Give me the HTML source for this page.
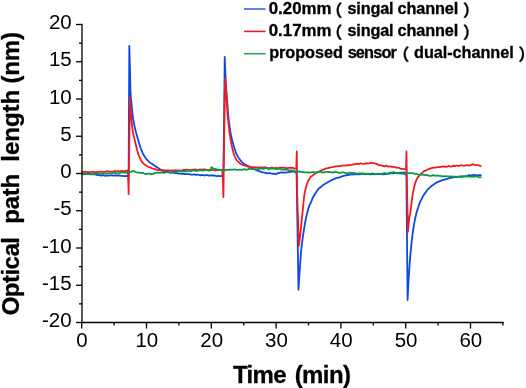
<!DOCTYPE html>
<html><head><meta charset="utf-8"><style>
html,body{margin:0;padding:0;background:#fff;}
body{width:526px;height:388px;overflow:hidden;}
svg{display:block;}
.t{font-family:"Liberation Sans",sans-serif;}
</style></head><body>
<svg width="526" height="388" viewBox="0 0 526 388">
<rect width="526" height="388" fill="#fff"/>
<g fill="none" stroke-linejoin="round" stroke-linecap="round" stroke-width="1.8">
<path stroke="#0c48e4" d="M82.00 174.04 L82.60 174.13 L83.20 174.23 L83.80 174.23 L84.40 174.13 L85.00 174.03 L85.60 174.05 L86.20 174.07 L86.80 174.09 L87.40 174.12 L88.00 174.15 L88.61 174.06 L89.23 173.95 L89.87 173.95 L90.50 174.02 L91.13 174.08 L91.75 174.11 L92.36 174.14 L92.94 174.20 L93.49 174.28 L94.00 174.38 L94.65 174.34 L95.23 174.37 L95.77 174.53 L96.35 174.77 L97.00 174.98 L97.51 175.01 L98.06 175.03 L98.63 175.07 L99.22 175.27 L99.84 175.47 L100.46 175.51 L101.10 175.49 L101.74 175.42 L102.37 175.27 L103.00 175.13 L103.61 175.37 L104.23 175.62 L104.86 175.73 L105.49 175.73 L106.12 175.72 L106.76 175.64 L107.40 175.57 L108.04 175.55 L108.69 175.55 L109.34 175.49 L110.00 175.39 L110.60 175.31 L111.19 175.29 L111.79 175.28 L112.40 175.37 L113.00 175.52 L113.61 175.63 L114.22 175.54 L114.84 175.45 L115.46 175.47 L116.09 175.53 L116.72 175.58 L117.36 175.61 L118.00 175.65 L118.59 175.61 L119.18 175.58 L119.78 175.61 L120.38 175.73 L120.99 175.85 L121.60 175.86 L122.22 175.86 L122.84 175.93 L123.46 176.04 L124.08 176.13 L124.70 176.06 L125.33 175.99 L125.95 176.00 L126.57 176.04 L127.19 176.06 L127.80 176.04 L128.60 176.10 L129.30 45.90 L129.30 45.83 L129.32 46.44 L129.34 47.04 L129.35 47.65 L129.37 48.25 L129.39 48.86 L129.41 49.46 L129.42 50.06 L129.44 50.67 L129.46 51.27 L129.48 51.87 L129.49 52.48 L129.51 53.08 L129.53 53.68 L129.55 54.29 L129.56 54.89 L129.58 55.49 L129.60 56.10 L129.62 56.70 L129.63 57.30 L129.65 57.91 L129.67 58.51 L129.69 59.11 L129.70 59.72 L129.72 60.32 L129.74 60.93 L129.76 61.53 L129.77 62.14 L129.79 62.74 L129.81 63.35 L129.83 63.95 L129.84 64.56 L129.86 65.17 L129.88 65.77 L129.90 66.38 L129.91 66.99 L129.93 67.60 L129.95 68.20 L129.97 68.81 L129.98 69.42 L130.00 70.03 L130.02 70.64 L130.03 71.26 L130.05 71.88 L130.06 72.51 L130.08 73.14 L130.09 73.78 L130.11 74.42 L130.12 75.07 L130.13 75.72 L130.15 76.37 L130.16 77.02 L130.17 77.67 L130.19 78.33 L130.20 78.99 L130.21 79.64 L130.23 80.30 L130.24 80.95 L130.25 81.61 L130.27 82.26 L130.28 82.91 L130.29 83.55 L130.31 84.20 L130.32 84.84 L130.34 85.47 L130.35 86.10 L130.37 86.73 L130.38 87.35 L130.40 87.96 L130.42 88.56 L130.44 89.16 L130.46 89.75 L130.48 90.34 L130.50 90.91 L130.52 91.48 L130.54 92.03 L130.57 92.58 L130.59 93.11 L130.62 93.64 L130.64 94.15 L130.67 94.65 L130.70 95.13 L130.75 95.87 L130.80 96.57 L130.85 97.24 L130.91 97.88 L130.96 98.51 L131.02 99.12 L131.08 99.71 L131.14 100.29 L131.20 100.87 L131.27 101.43 L131.33 102.00 L131.39 102.56 L131.46 103.12 L131.52 103.69 L131.58 104.26 L131.64 104.85 L131.70 105.45 L131.76 106.05 L131.81 106.66 L131.87 107.27 L131.92 107.87 L131.97 108.48 L132.02 109.09 L132.07 109.69 L132.12 110.30 L132.18 110.91 L132.23 111.51 L132.29 112.12 L132.35 112.72 L132.41 113.33 L132.48 113.93 L132.55 114.53 L132.62 115.13 L132.70 115.74 L132.78 116.34 L132.87 116.95 L132.97 117.57 L133.06 118.19 L133.16 118.80 L133.26 119.42 L133.37 120.04 L133.48 120.66 L133.59 121.27 L133.70 121.88 L133.81 122.49 L133.92 123.09 L134.04 123.68 L134.15 124.27 L134.27 124.85 L134.38 125.42 L134.50 125.98 L134.63 126.61 L134.77 127.23 L134.90 127.85 L135.04 128.46 L135.18 129.06 L135.33 129.65 L135.47 130.23 L135.61 130.80 L135.75 131.36 L135.89 131.91 L136.03 132.45 L136.17 132.97 L136.30 133.48 L136.47 134.11 L136.63 134.71 L136.79 135.28 L136.95 135.85 L137.11 136.41 L137.27 136.98 L137.43 137.55 L137.60 138.13 L137.78 138.76 L137.96 139.39 L138.14 140.02 L138.33 140.66 L138.52 141.30 L138.71 141.94 L138.90 142.59 L139.10 143.23 L139.28 143.81 L139.46 144.39 L139.64 144.97 L139.82 145.55 L140.00 146.12 L140.19 146.70 L140.39 147.26 L140.59 147.83 L140.80 148.39 L141.02 148.96 L141.24 149.52 L141.47 150.12 L141.70 150.72 L141.94 151.32 L142.19 151.92 L142.45 152.52 L142.72 153.12 L143.00 153.67 L143.29 154.21 L143.60 154.75 L143.90 155.29 L144.22 155.82 L144.55 156.39 L144.89 156.97 L145.25 157.53 L145.62 158.08 L146.00 158.59 L146.40 159.04 L146.81 159.47 L147.24 159.90 L147.68 160.39 L148.13 160.89 L148.59 161.37 L149.05 161.82 L149.52 162.22 L150.00 162.61 L150.48 162.96 L150.97 163.25 L151.47 163.52 L151.98 163.82 L152.49 164.18 L153.01 164.54 L153.51 164.91 L154.01 165.30 L154.50 165.68 L155.05 166.05 L155.59 166.34 L156.12 166.62 L156.65 166.96 L157.18 167.33 L157.69 167.70 L158.20 168.00 L158.74 168.32 L159.27 168.67 L159.78 169.04 L160.30 169.41 L160.84 169.75 L161.40 170.14 L161.98 170.48 L162.57 170.77 L163.18 171.00 L163.81 171.21 L164.48 171.33 L165.20 171.44 L165.74 171.54 L166.31 171.65 L166.91 171.76 L167.53 171.90 L168.17 172.05 L168.83 172.23 L169.49 172.42 L170.16 172.54 L170.83 172.61 L171.50 172.66 L172.16 172.68 L172.80 172.69 L173.43 172.79 L174.06 172.89 L174.70 172.97 L175.33 173.03 L175.96 173.10 L176.60 173.17 L177.23 173.23 L177.86 173.39 L178.50 173.55 L179.13 173.62 L179.77 173.61 L180.40 173.61 L181.03 173.72 L181.67 173.82 L182.30 173.88 L182.93 173.91 L183.57 173.94 L184.20 173.96 L184.83 173.98 L185.47 174.09 L186.10 174.20 L186.73 174.22 L187.37 174.19 L188.00 174.21 L188.00 174.10 L188.62 174.14 L189.23 174.17 L189.84 174.30 L190.44 174.52 L191.05 174.72 L191.67 174.69 L192.30 174.66 L192.94 174.57 L193.60 174.46 L194.19 174.45 L194.80 174.66 L195.42 174.88 L196.05 174.78 L196.68 174.63 L197.33 174.62 L197.97 174.73 L198.62 174.86 L199.27 175.05 L199.92 175.24 L200.56 175.25 L201.20 175.23 L201.83 175.15 L202.47 175.02 L203.10 174.95 L203.73 175.24 L204.37 175.52 L205.00 175.41 L205.63 175.20 L206.27 175.09 L206.90 175.13 L207.53 175.18 L208.17 175.36 L208.80 175.54 L209.44 175.54 L210.08 175.46 L210.73 175.42 L211.39 175.46 L212.04 175.51 L212.69 175.50 L213.34 175.49 L213.97 175.53 L214.60 175.59 L215.22 175.69 L215.82 175.87 L216.40 176.03 L217.10 175.99 L217.77 175.91 L218.42 175.95 L219.06 176.07 L219.69 176.13 L220.32 176.07 L220.96 176.00 L221.60 176.03 L222.40 176.20 L223.30 171.00 L223.70 150.00 L224.00 125.00 L224.70 57.00 L224.70 57.02 L224.73 57.62 L224.75 58.23 L224.78 58.83 L224.81 59.43 L224.83 60.04 L224.86 60.64 L224.88 61.24 L224.91 61.85 L224.94 62.45 L224.96 63.06 L224.99 63.66 L225.01 64.27 L225.04 64.87 L225.07 65.47 L225.09 66.08 L225.12 66.68 L225.14 67.28 L225.17 67.89 L225.20 68.49 L225.22 69.09 L225.25 69.69 L225.28 70.29 L225.30 70.89 L225.33 71.49 L225.36 72.09 L225.39 72.69 L225.41 73.29 L225.44 73.88 L225.47 74.48 L225.50 75.07 L225.53 75.69 L225.56 76.31 L225.59 76.94 L225.62 77.56 L225.65 78.19 L225.68 78.82 L225.71 79.45 L225.74 80.08 L225.77 80.72 L225.80 81.35 L225.83 81.98 L225.86 82.60 L225.90 83.23 L225.93 83.86 L225.96 84.48 L225.99 85.10 L226.02 85.71 L226.06 86.32 L226.09 86.93 L226.12 87.53 L226.16 88.13 L226.19 88.72 L226.22 89.30 L226.26 89.87 L226.29 90.44 L226.33 90.99 L226.36 91.54 L226.40 92.08 L226.45 92.75 L226.49 93.39 L226.54 94.03 L226.59 94.65 L226.64 95.26 L226.69 95.86 L226.74 96.45 L226.79 97.04 L226.84 97.63 L226.89 98.21 L226.94 98.79 L226.99 99.37 L227.04 99.95 L227.09 100.54 L227.15 101.13 L227.20 101.73 L227.25 102.34 L227.30 102.96 L227.35 103.54 L227.39 104.12 L227.44 104.71 L227.48 105.30 L227.53 105.90 L227.57 106.50 L227.62 107.10 L227.66 107.71 L227.71 108.31 L227.75 108.93 L227.80 109.54 L227.85 110.15 L227.89 110.76 L227.94 111.37 L227.99 111.97 L228.04 112.57 L228.09 113.17 L228.14 113.76 L228.19 114.35 L228.24 114.93 L228.30 115.50 L228.36 116.14 L228.43 116.77 L228.49 117.41 L228.56 118.04 L228.63 118.67 L228.70 119.29 L228.77 119.91 L228.84 120.53 L228.91 121.14 L228.98 121.75 L229.06 122.35 L229.13 122.94 L229.20 123.53 L229.28 124.12 L229.35 124.70 L229.43 125.28 L229.50 125.84 L229.60 126.56 L229.69 127.26 L229.79 127.95 L229.89 128.63 L229.98 129.30 L230.08 129.95 L230.18 130.60 L230.28 131.24 L230.39 131.87 L230.49 132.49 L230.60 133.11 L230.73 133.81 L230.86 134.48 L230.99 135.13 L231.13 135.77 L231.27 136.40 L231.41 137.03 L231.55 137.67 L231.70 138.30 L231.85 138.94 L232.01 139.58 L232.16 140.21 L232.33 140.83 L232.49 141.45 L232.66 142.07 L232.83 142.69 L233.00 143.30 L233.16 143.86 L233.31 144.42 L233.47 144.99 L233.63 145.55 L233.80 146.12 L233.96 146.70 L234.14 147.27 L234.32 147.84 L234.50 148.42 L234.69 148.99 L234.88 149.56 L235.08 150.13 L235.28 150.71 L235.49 151.31 L235.70 151.90 L235.93 152.48 L236.16 153.06 L236.40 153.64 L236.68 154.27 L236.96 154.87 L237.25 155.47 L237.55 156.06 L237.86 156.65 L238.19 157.23 L238.54 157.73 L238.90 158.23 L239.25 158.67 L239.62 159.11 L240.00 159.63 L240.39 160.18 L240.80 160.71 L241.21 161.24 L241.63 161.68 L242.06 162.11 L242.50 162.52 L242.98 162.93 L243.47 163.31 L243.97 163.68 L244.48 164.03 L244.99 164.38 L245.52 164.71 L246.06 165.02 L246.60 165.32 L247.16 165.60 L247.74 165.88 L248.34 166.16 L248.94 166.46 L249.54 166.83 L250.14 167.20 L250.72 167.40 L251.30 167.58 L251.89 167.83 L252.47 168.17 L253.04 168.51 L253.61 168.77 L254.18 169.01 L254.78 169.25 L255.40 169.61 L255.93 169.90 L256.48 170.16 L257.05 170.39 L257.63 170.61 L258.22 170.82 L258.81 171.02 L259.39 171.23 L259.97 171.43 L260.55 171.62 L261.10 171.85 L261.78 172.12 L262.44 172.31 L263.10 172.38 L263.75 172.45 L264.40 172.60 L265.05 172.76 L265.70 172.95 L265.70 172.82 L266.34 173.13 L266.98 173.43 L267.63 173.43 L268.27 173.28 L268.91 173.18 L269.55 173.20 L270.20 173.21 L270.88 173.38 L271.59 173.54 L272.31 173.68 L273.01 173.81 L273.68 173.80 L274.28 173.75 L274.80 173.75 L275.56 174.08 L276.20 174.24 L276.66 174.00 L277.10 173.56 L277.70 173.20 L278.13 173.08 L278.63 173.00 L279.19 172.95 L279.80 172.72 L280.44 172.49 L281.11 172.41 L281.81 172.43 L282.51 172.50 L283.21 172.64 L283.90 172.72 L284.47 172.70 L285.07 172.67 L285.70 172.55 L286.35 172.39 L287.01 172.29 L287.68 172.27 L288.35 172.23 L289.02 172.16 L289.68 172.09 L290.33 171.91 L290.95 171.74 L291.54 171.64 L292.10 171.59 L292.62 171.55 L293.10 171.52 L293.83 171.50 L294.46 171.62 L295.04 171.90 L295.61 172.18 L296.20 172.17 L296.60 175.00 L298.50 289.60 L298.50 289.67 L298.54 289.06 L298.57 288.44 L298.61 287.83 L298.65 287.22 L298.69 286.60 L298.72 285.99 L298.76 285.37 L298.80 284.75 L298.84 284.14 L298.87 283.52 L298.91 282.91 L298.95 282.29 L298.98 281.68 L299.02 281.06 L299.06 280.45 L299.10 279.84 L299.13 279.23 L299.17 278.62 L299.21 278.02 L299.25 277.41 L299.28 276.81 L299.32 276.21 L299.36 275.62 L299.40 275.02 L299.44 274.38 L299.48 273.74 L299.53 273.10 L299.57 272.46 L299.61 271.83 L299.66 271.19 L299.70 270.55 L299.74 269.92 L299.79 269.29 L299.83 268.66 L299.88 268.03 L299.92 267.41 L299.96 266.79 L300.01 266.17 L300.05 265.56 L300.09 264.96 L300.13 264.36 L300.18 263.77 L300.22 263.18 L300.26 262.59 L300.30 262.02 L300.35 261.36 L300.39 260.70 L300.43 260.05 L300.47 259.40 L300.52 258.75 L300.56 258.11 L300.60 257.48 L300.64 256.85 L300.68 256.23 L300.72 255.61 L300.76 255.00 L300.81 254.40 L300.85 253.81 L300.90 253.22 L300.95 252.64 L301.00 252.07 L301.06 251.40 L301.13 250.76 L301.20 250.13 L301.26 249.53 L301.33 248.93 L301.40 248.33 L301.48 247.73 L301.55 247.10 L301.63 246.45 L301.71 245.78 L301.80 245.07 L301.87 244.50 L301.94 243.91 L302.02 243.31 L302.09 242.69 L302.17 242.06 L302.25 241.42 L302.33 240.78 L302.41 240.12 L302.50 239.46 L302.58 238.80 L302.67 238.13 L302.76 237.47 L302.85 236.80 L302.94 236.14 L303.03 235.50 L303.12 234.88 L303.21 234.27 L303.30 233.68 L303.39 233.08 L303.49 232.48 L303.58 231.88 L303.68 231.29 L303.77 230.70 L303.87 230.11 L303.97 229.52 L304.06 228.93 L304.16 228.35 L304.26 227.76 L304.37 227.18 L304.47 226.61 L304.57 225.99 L304.68 225.37 L304.78 224.74 L304.89 224.12 L305.00 223.50 L305.12 222.83 L305.23 222.18 L305.35 221.52 L305.47 220.87 L305.59 220.23 L305.71 219.58 L305.84 218.94 L305.96 218.29 L306.09 217.69 L306.22 217.11 L306.35 216.53 L306.48 215.96 L306.62 215.38 L306.76 214.80 L306.90 214.23 L307.04 213.66 L307.19 213.07 L307.34 212.48 L307.50 211.88 L307.66 211.26 L307.82 210.64 L307.98 210.03 L308.14 209.43 L308.31 208.84 L308.47 208.27 L308.64 207.71 L308.81 207.17 L308.97 206.67 L309.14 206.18 L309.30 205.73 L309.56 205.09 L309.83 204.52 L310.09 204.00 L310.36 203.50 L310.63 202.97 L310.90 202.38 L311.13 201.83 L311.35 201.27 L311.58 200.70 L311.80 200.12 L312.04 199.53 L312.28 198.95 L312.53 198.38 L312.80 197.81 L313.06 197.28 L313.34 196.75 L313.62 196.23 L313.91 195.71 L314.21 195.19 L314.52 194.68 L314.84 194.17 L315.17 193.66 L315.50 193.17 L315.85 192.65 L316.21 192.14 L316.57 191.61 L316.95 191.01 L317.33 190.42 L317.73 189.84 L318.14 189.30 L318.56 188.86 L319.00 188.44 L319.42 188.06 L319.86 187.69 L320.31 187.32 L320.77 186.97 L321.24 186.60 L321.72 186.22 L322.21 185.85 L322.70 185.46 L323.20 185.03 L323.70 184.60 L324.21 184.23 L324.74 183.96 L325.27 183.69 L325.81 183.39 L326.35 183.08 L326.90 182.78 L327.45 182.43 L328.00 182.07 L328.55 181.73 L329.10 181.45 L329.69 181.15 L330.28 180.84 L330.87 180.50 L331.46 180.17 L332.06 179.93 L332.66 179.70 L333.26 179.46 L333.88 179.21 L334.50 178.95 L335.09 178.61 L335.69 178.27 L336.29 178.04 L336.90 177.92 L337.52 177.82 L338.14 177.67 L338.76 177.53 L339.40 177.34 L340.04 177.11 L340.70 176.88 L341.26 176.68 L341.84 176.49 L342.41 176.26 L343.00 176.03 L343.59 175.82 L344.18 175.73 L344.78 175.65 L345.39 175.51 L346.00 175.34 L346.62 175.17 L347.24 175.02 L347.87 174.88 L348.50 174.84 L349.10 174.83 L349.71 174.76 L350.33 174.54 L350.96 174.33 L351.59 174.41 L352.22 174.51 L352.86 174.46 L353.51 174.27 L354.15 174.16 L354.79 174.26 L355.44 174.36 L356.08 174.32 L356.73 174.27 L357.36 174.20 L358.00 174.11 L358.00 174.28 L358.62 174.37 L359.25 174.45 L359.88 174.36 L360.52 174.16 L361.16 173.99 L361.80 173.91 L362.45 173.84 L363.09 173.91 L363.74 173.99 L364.38 174.09 L365.02 174.20 L365.67 174.24 L366.31 174.10 L366.94 173.95 L367.57 173.93 L368.20 173.91 L368.82 174.01 L369.43 174.22 L370.04 174.41 L370.64 174.33 L371.23 174.26 L371.82 174.19 L372.39 174.13 L372.95 174.07 L373.50 174.16 L374.20 174.31 L374.89 174.26 L375.57 174.08 L376.24 174.00 L376.89 174.10 L377.54 174.19 L378.17 174.05 L378.80 173.91 L379.42 173.90 L380.03 173.96 L380.63 174.03 L381.23 174.12 L381.82 174.22 L382.41 174.25 L383.00 174.26 L383.68 174.26 L384.35 174.23 L385.00 174.19 L385.65 174.01 L386.29 173.83 L386.92 173.79 L387.54 173.81 L388.16 173.79 L388.78 173.67 L389.39 173.54 L390.00 173.43 L390.61 173.31 L391.21 173.24 L391.79 173.25 L392.37 173.25 L392.94 173.25 L393.52 173.25 L394.11 173.24 L394.72 173.16 L395.35 173.10 L396.00 173.01 L396.57 172.94 L397.16 172.91 L397.76 172.96 L398.38 173.02 L399.00 172.87 L399.64 172.68 L400.29 172.56 L400.94 172.53 L401.59 172.53 L402.25 172.63 L402.91 172.72 L403.56 172.70 L404.22 172.66 L404.86 172.63 L405.50 172.61 L406.40 176.00 L407.60 300.00 L407.60 299.52 L407.62 299.02 L407.65 298.52 L407.67 298.02 L407.69 297.53 L407.72 297.03 L407.74 296.53 L407.76 296.03 L407.79 295.53 L407.81 295.03 L407.84 294.53 L407.86 294.03 L407.88 293.53 L407.91 293.03 L407.93 292.53 L407.96 292.03 L407.98 291.53 L408.01 291.03 L408.03 290.53 L408.06 290.03 L408.09 289.53 L408.11 289.03 L408.14 288.53 L408.16 288.04 L408.19 287.54 L408.22 287.04 L408.24 286.54 L408.27 286.04 L408.30 285.54 L408.32 285.04 L408.35 284.54 L408.38 284.04 L408.41 283.54 L408.43 283.04 L408.46 282.54 L408.49 282.04 L408.52 281.54 L408.55 281.04 L408.57 280.54 L408.60 280.05 L408.63 279.55 L408.66 279.05 L408.69 278.55 L408.72 278.05 L408.75 277.55 L408.78 277.05 L408.81 276.55 L408.84 276.05 L408.87 275.55 L408.90 275.05 L408.93 274.55 L408.96 274.05 L409.00 273.55 L409.03 273.06 L409.06 272.56 L409.09 272.06 L409.12 271.56 L409.16 271.07 L409.19 270.58 L409.22 270.09 L409.26 269.60 L409.29 269.11 L409.32 268.62 L409.36 268.13 L409.39 267.63 L409.43 267.14 L409.46 266.65 L409.50 266.16 L409.53 265.67 L409.57 265.18 L409.60 264.69 L409.64 264.20 L409.68 263.71 L409.71 263.22 L409.75 262.73 L409.79 262.24 L409.83 261.75 L409.86 261.26 L409.90 260.77 L409.94 260.28 L409.98 259.79 L410.02 259.30 L410.06 258.81 L410.10 258.32 L410.14 257.83 L410.18 257.34 L410.22 256.85 L410.26 256.36 L410.30 255.88 L410.34 255.39 L410.39 254.90 L410.43 254.41 L410.47 253.92 L410.52 253.43 L410.56 252.94 L410.61 252.46 L410.65 251.96 L410.70 251.47 L410.74 250.98 L410.79 250.48 L410.83 249.99 L410.88 249.50 L410.93 249.00 L410.98 248.51 L411.02 248.02 L411.07 247.52 L411.12 247.03 L411.17 246.54 L411.22 246.05 L411.27 245.55 L411.32 245.06 L411.38 244.57 L411.43 244.08 L411.48 243.58 L411.54 243.09 L411.59 242.60 L411.64 242.11 L411.70 241.62 L411.76 241.13 L411.81 240.63 L411.87 240.14 L411.93 239.65 L411.99 239.16 L412.04 238.67 L412.10 238.18 L412.16 237.67 L412.23 237.17 L412.29 236.67 L412.35 236.16 L412.41 235.66 L412.48 235.15 L412.54 234.65 L412.61 234.15 L412.67 233.64 L412.74 233.14 L412.81 232.63 L412.88 232.13 L412.95 231.62 L413.02 231.12 L413.09 230.62 L413.16 230.11 L413.24 229.61 L413.31 229.10 L413.39 228.60 L413.47 228.09 L413.54 227.59 L413.62 227.09 L413.70 226.59 L413.78 226.09 L413.87 225.59 L413.95 225.09 L414.03 224.59 L414.12 224.09 L414.21 223.59 L414.29 223.09 L414.38 222.59 L414.47 222.09 L414.57 221.59 L414.66 221.09 L414.76 220.59 L414.85 220.09 L414.95 219.59 L415.05 219.10 L415.15 218.60 L415.26 218.12 L415.36 217.63 L415.47 217.14 L415.57 216.66 L415.68 216.17 L415.80 215.69 L415.91 215.20 L416.03 214.72 L416.14 214.24 L416.26 213.75 L416.38 213.27 L416.51 212.79 L416.63 212.32 L416.76 211.88 L416.89 211.44 L417.03 211.00 L417.16 210.56 L417.30 210.12 L417.44 209.68 L417.58 209.25 L417.73 208.82 L417.88 208.38 L418.03 207.96 L418.18 207.48 L418.34 206.97 L418.50 206.46 L418.66 205.94 L418.83 205.43 L419.00 204.92 L419.17 204.41 L419.34 203.89 L419.52 203.38 L419.71 202.93 L419.89 202.51 L420.08 202.09 L420.28 201.68 L420.47 201.27 L420.68 200.86 L420.88 200.46 L421.09 200.06 L421.30 199.60 L421.52 199.15 L421.74 198.70 L421.97 198.24 L422.20 197.80 L422.44 197.35 L422.68 196.90 L422.92 196.45 L423.17 196.00 L423.43 195.55 L423.69 195.11 L423.95 194.67 L424.22 194.26 L424.49 193.89 L424.77 193.52 L425.05 193.16 L425.34 192.81 L425.64 192.44 L425.94 191.97 L426.24 191.50 L426.55 191.03 L426.87 190.57 L427.19 190.13 L427.51 189.77 L427.84 189.41 L428.18 189.06 L428.52 188.71 L428.87 188.39 L429.22 188.08 L429.58 187.77 L429.94 187.47 L430.31 187.12 L430.68 186.74 L431.06 186.36 L431.44 185.99 L431.82 185.72 L432.22 185.51 L432.61 185.32 L433.01 185.13 L433.42 184.81 L433.83 184.44 L434.24 184.08 L434.66 183.74 L435.08 183.46 L435.51 183.19 L435.94 182.93 L436.37 182.67 L436.81 182.41 L437.25 182.17 L437.69 181.94 L438.14 181.81 L438.58 181.68 L439.04 181.56 L439.49 181.34 L439.95 181.12 L440.41 180.90 L440.87 180.71 L441.34 180.56 L441.80 180.41 L442.27 180.26 L442.74 180.10 L443.21 179.94 L443.69 179.80 L444.16 179.67 L444.64 179.55 L445.12 179.43 L445.60 179.32 L446.08 179.21 L446.57 179.11 L447.05 178.94 L447.53 178.78 L448.02 178.62 L448.51 178.44 L449.00 178.25 L449.48 178.07 L449.97 177.98 L450.46 177.93 L450.95 177.88 L451.45 177.77 L451.94 177.63 L452.43 177.50 L452.92 177.38 L453.42 177.28 L453.91 177.17 L454.41 177.14 L454.90 177.14 L455.40 177.15 L455.89 177.14 L456.39 177.12 L456.88 177.09 L457.38 177.00 L457.88 176.86 L458.37 176.71 L458.87 176.63 L459.37 176.59 L459.86 176.56 L460.36 176.53 L460.86 176.49 L461.36 176.46 L461.86 176.45 L462.35 176.47 L462.85 176.49 L463.35 176.47 L463.85 176.40 L464.35 176.34 L464.85 176.30 L465.35 176.28 L465.85 176.26 L466.34 176.25 L466.84 176.25 L467.34 176.24 L467.84 176.20 L468.34 176.11 L468.70 176.05 L468.70 174.97 L469.36 175.24 L470.01 175.51 L470.66 175.51 L471.31 175.41 L471.96 175.26 L472.63 175.02 L473.31 174.84 L474.00 174.94 L474.59 175.03 L475.18 175.09 L475.79 175.15 L476.41 175.21 L477.03 175.31 L477.66 175.41 L478.29 175.25 L478.92 175.07 L479.55 175.03 L480.18 175.10 L480.80 175.17"/>
<path stroke="#ee1c22" d="M82.00 171.97 L82.63 172.03 L83.26 172.10 L83.89 172.01 L84.53 171.84 L85.16 171.76 L85.80 171.95 L86.44 172.14 L87.07 172.19 L87.70 172.22 L88.33 172.20 L88.96 172.13 L89.58 172.07 L90.19 172.09 L90.80 172.11 L91.41 171.98 L92.00 171.79 L92.64 171.69 L93.28 171.94 L93.91 172.18 L94.53 172.23 L95.14 172.24 L95.75 172.24 L96.36 172.22 L96.96 172.20 L97.57 172.04 L98.17 171.86 L98.78 171.80 L99.39 171.88 L100.00 171.96 L100.62 171.78 L101.24 171.59 L101.86 171.64 L102.48 171.85 L103.10 172.03 L103.72 172.00 L104.34 171.97 L104.96 171.82 L105.58 171.63 L106.19 171.46 L106.80 171.36 L107.40 171.25 L108.00 171.33 L108.65 171.46 L109.30 171.54 L109.94 171.56 L110.58 171.59 L111.21 171.65 L111.84 171.72 L112.47 171.64 L113.10 171.51 L113.73 171.36 L114.37 171.17 L115.00 170.98 L115.64 171.26 L116.28 171.54 L116.93 171.43 L117.57 171.13 L118.22 171.01 L118.86 171.28 L119.50 171.54 L120.14 171.29 L120.77 171.03 L121.39 170.96 L122.00 171.00 L122.67 171.08 L123.33 171.23 L123.97 171.39 L124.62 171.13 L125.25 170.86 L125.89 170.75 L126.52 170.73 L127.16 170.74 L127.80 170.86 L128.40 185.00 L128.60 194.00 L129.20 150.00 L130.00 97.30 L130.00 97.38 L130.04 98.02 L130.08 98.65 L130.12 99.28 L130.16 99.91 L130.20 100.54 L130.24 101.17 L130.29 101.80 L130.33 102.44 L130.37 103.09 L130.41 103.75 L130.46 104.42 L130.50 105.11 L130.54 105.69 L130.58 106.29 L130.61 106.89 L130.65 107.50 L130.69 108.12 L130.73 108.75 L130.77 109.38 L130.81 110.02 L130.85 110.66 L130.89 111.30 L130.93 111.94 L130.97 112.58 L131.02 113.23 L131.06 113.87 L131.11 114.50 L131.15 115.13 L131.20 115.76 L131.25 116.37 L131.29 116.99 L131.34 117.61 L131.39 118.23 L131.43 118.85 L131.48 119.48 L131.53 120.09 L131.58 120.70 L131.63 121.31 L131.69 121.91 L131.74 122.51 L131.79 123.11 L131.85 123.70 L131.91 124.29 L131.97 124.87 L132.03 125.44 L132.10 126.01 L132.18 126.66 L132.26 127.31 L132.35 127.97 L132.43 128.62 L132.52 129.27 L132.62 129.90 L132.71 130.53 L132.81 131.15 L132.90 131.75 L133.00 132.33 L133.10 132.92 L133.20 133.49 L133.30 134.03 L133.44 134.72 L133.58 135.36 L133.72 135.96 L133.86 136.55 L134.00 137.13 L134.15 137.73 L134.30 138.36 L134.45 138.99 L134.59 139.60 L134.74 140.20 L134.89 140.80 L135.05 141.42 L135.20 142.03 L135.35 142.64 L135.50 143.25 L135.65 143.86 L135.79 144.48 L135.94 145.10 L136.08 145.74 L136.23 146.40 L136.38 147.05 L136.54 147.71 L136.70 148.36 L136.87 149.01 L137.05 149.66 L137.22 150.31 L137.41 150.96 L137.60 151.61 L137.79 152.26 L137.99 152.90 L138.20 153.55 L138.40 154.17 L138.61 154.78 L138.81 155.40 L139.03 156.00 L139.25 156.58 L139.48 157.14 L139.73 157.70 L140.00 158.25 L140.28 158.78 L140.57 159.33 L140.86 159.91 L141.18 160.49 L141.51 161.06 L141.85 161.61 L142.21 162.12 L142.60 162.58 L143.00 163.01 L143.43 163.43 L143.88 163.83 L144.34 164.21 L144.82 164.57 L145.31 164.95 L145.80 165.34 L146.30 165.72 L146.88 166.07 L147.49 166.36 L148.10 166.62 L148.73 166.88 L149.36 167.12 L149.99 167.38 L150.60 167.65 L151.26 167.94 L151.92 168.26 L152.58 168.55 L153.23 168.76 L153.88 168.97 L154.50 169.07 L155.12 169.16 L155.69 169.32 L156.27 169.60 L156.89 169.87 L157.60 170.06 L158.11 170.16 L158.67 170.22 L159.26 170.21 L159.88 170.18 L160.52 170.22 L161.18 170.27 L161.86 170.27 L162.54 170.23 L163.22 170.23 L163.89 170.31 L164.56 170.39 L165.20 170.41 L165.83 170.43 L166.47 170.45 L167.10 170.48 L167.73 170.47 L168.37 170.38 L169.00 170.29 L169.63 170.45 L170.27 170.61 L170.90 170.62 L171.53 170.55 L172.17 170.49 L172.80 170.48 L172.80 170.49 L173.43 170.55 L174.07 170.61 L174.70 170.48 L175.33 170.23 L175.97 170.08 L176.60 170.25 L177.23 170.41 L177.87 170.37 L178.50 170.31 L179.13 170.38 L179.77 170.56 L180.40 170.71 L181.04 170.67 L181.68 170.63 L182.32 170.39 L182.97 170.10 L183.61 169.97 L184.26 170.01 L184.90 170.02 L185.53 169.85 L186.16 169.68 L186.79 169.71 L187.40 169.79 L188.00 169.89 L188.63 170.00 L189.24 170.12 L189.83 170.13 L190.42 170.14 L191.01 170.09 L191.59 169.92 L192.18 169.75 L192.78 169.66 L193.38 169.59 L194.00 169.52 L194.63 169.46 L195.27 169.41 L195.92 169.56 L196.58 169.72 L197.24 169.86 L197.90 169.98 L198.57 169.93 L199.23 169.62 L199.89 169.39 L200.55 169.65 L201.20 169.91 L201.82 169.72 L202.44 169.46 L203.05 169.33 L203.66 169.41 L204.26 169.49 L204.87 169.52 L205.48 169.56 L206.10 169.67 L206.72 169.86 L207.36 170.03 L208.00 169.92 L208.58 169.81 L209.17 169.80 L209.77 169.85 L210.38 169.91 L211.00 170.04 L211.62 170.18 L212.24 170.11 L212.86 169.96 L213.47 169.92 L214.08 170.18 L214.68 170.43 L215.27 170.32 L215.84 170.12 L216.40 169.98 L217.10 170.14 L217.78 170.28 L218.44 170.15 L219.09 170.01 L219.73 169.93 L220.37 169.86 L221.01 169.85 L221.65 169.93 L222.30 170.03 L222.90 180.00 L223.40 197.00 L224.30 130.00 L225.10 78.60 L225.10 78.61 L225.15 79.24 L225.19 79.87 L225.24 80.50 L225.29 81.14 L225.33 81.77 L225.38 82.41 L225.43 83.05 L225.47 83.68 L225.52 84.31 L225.57 84.94 L225.61 85.55 L225.66 86.17 L225.71 86.77 L225.75 87.36 L225.80 87.94 L225.86 88.61 L225.91 89.25 L225.97 89.87 L226.02 90.49 L226.08 91.09 L226.13 91.69 L226.19 92.30 L226.24 92.92 L226.30 93.55 L226.35 94.21 L226.40 94.88 L226.44 95.43 L226.48 96.00 L226.51 96.57 L226.55 97.16 L226.58 97.75 L226.62 98.35 L226.65 98.96 L226.69 99.58 L226.72 100.20 L226.75 100.83 L226.79 101.45 L226.82 102.08 L226.85 102.70 L226.89 103.32 L226.93 103.94 L226.96 104.56 L227.00 105.17 L227.04 105.78 L227.08 106.38 L227.11 106.99 L227.15 107.59 L227.19 108.20 L227.22 108.81 L227.26 109.41 L227.30 110.02 L227.34 110.63 L227.38 111.23 L227.42 111.84 L227.46 112.45 L227.51 113.05 L227.55 113.66 L227.60 114.26 L227.65 114.87 L227.70 115.48 L227.75 116.09 L227.81 116.70 L227.87 117.32 L227.93 117.94 L228.00 118.57 L228.06 119.19 L228.13 119.82 L228.20 120.45 L228.27 121.08 L228.34 121.70 L228.41 122.32 L228.48 122.94 L228.54 123.54 L228.61 124.14 L228.67 124.72 L228.74 125.30 L228.80 125.86 L228.88 126.57 L228.95 127.26 L229.02 127.95 L229.09 128.62 L229.16 129.28 L229.23 129.93 L229.30 130.57 L229.37 131.21 L229.45 131.83 L229.52 132.45 L229.60 133.05 L229.69 133.74 L229.79 134.41 L229.89 135.07 L229.99 135.71 L230.09 136.34 L230.19 136.98 L230.29 137.61 L230.40 138.25 L230.51 138.89 L230.61 139.53 L230.72 140.17 L230.83 140.81 L230.94 141.44 L231.06 142.08 L231.18 142.71 L231.30 143.35 L231.43 143.99 L231.55 144.64 L231.69 145.29 L231.82 145.94 L231.96 146.59 L232.10 147.23 L232.25 147.88 L232.40 148.52 L232.56 149.16 L232.72 149.82 L232.89 150.48 L233.06 151.14 L233.24 151.80 L233.42 152.45 L233.61 153.09 L233.80 153.71 L234.00 154.36 L234.21 154.98 L234.41 155.58 L234.63 156.17 L234.86 156.74 L235.12 157.31 L235.40 157.86 L235.71 158.42 L236.04 159.00 L236.39 159.57 L236.77 160.13 L237.16 160.66 L237.57 161.09 L238.00 161.49 L238.45 161.86 L238.92 162.31 L239.41 162.78 L239.91 163.24 L240.43 163.64 L240.96 163.99 L241.50 164.32 L242.04 164.62 L242.59 164.90 L243.15 165.14 L243.72 165.27 L244.30 165.39 L244.89 165.54 L245.50 165.73 L246.09 165.90 L246.71 166.16 L247.34 166.42 L247.97 166.53 L248.61 166.55 L249.25 166.61 L249.88 166.85 L250.50 167.08 L251.15 167.17 L251.78 167.23 L252.41 167.22 L253.03 167.14 L253.67 167.07 L254.32 167.13 L255.00 167.19 L255.57 167.29 L256.16 167.39 L256.76 167.45 L257.37 167.39 L257.99 167.34 L258.62 167.32 L259.24 167.30 L259.87 167.36 L260.49 167.49 L261.10 167.63 L261.10 167.31 L261.71 167.44 L262.31 167.57 L262.92 167.52 L263.53 167.31 L264.13 167.11 L264.74 167.21 L265.34 167.30 L265.95 167.46 L266.56 167.66 L267.16 167.85 L267.77 167.96 L268.38 168.07 L268.98 168.14 L269.59 168.18 L270.20 168.17 L270.81 167.88 L271.42 167.58 L272.04 167.61 L272.65 167.77 L273.26 167.92 L273.88 168.03 L274.49 168.13 L275.11 168.09 L275.72 168.00 L276.33 167.98 L276.95 168.06 L277.56 168.14 L278.18 167.98 L278.79 167.81 L279.40 167.70 L280.01 167.66 L280.62 167.62 L281.23 167.64 L281.85 167.65 L282.46 167.64 L283.08 167.61 L283.69 167.61 L284.30 167.80 L284.91 167.98 L285.52 168.03 L286.12 168.01 L286.73 168.01 L287.32 168.03 L287.91 168.05 L288.50 167.96 L289.12 167.81 L289.73 167.71 L290.34 167.73 L290.94 167.76 L291.54 167.78 L292.14 167.81 L292.73 167.88 L293.33 168.13 L293.92 168.37 L294.51 168.49 L295.11 168.56 L295.70 168.62 L296.30 168.61 L296.80 151.40 L297.20 195.00 L298.90 245.70 L298.90 245.93 L298.98 245.28 L299.05 244.64 L299.13 244.00 L299.21 243.36 L299.28 242.72 L299.36 242.07 L299.44 241.42 L299.52 240.77 L299.60 240.11 L299.68 239.49 L299.75 238.88 L299.83 238.28 L299.91 237.67 L299.99 237.06 L300.07 236.43 L300.15 235.79 L300.23 235.12 L300.32 234.42 L300.40 233.68 L300.46 233.17 L300.52 232.64 L300.58 232.10 L300.64 231.53 L300.70 230.96 L300.76 230.37 L300.82 229.76 L300.88 229.15 L300.94 228.53 L301.01 227.90 L301.07 227.26 L301.13 226.62 L301.20 225.98 L301.26 225.34 L301.32 224.69 L301.39 224.05 L301.45 223.41 L301.51 222.78 L301.58 222.15 L301.64 221.53 L301.70 220.91 L301.76 220.30 L301.82 219.70 L301.89 219.09 L301.95 218.46 L302.01 217.84 L302.07 217.21 L302.13 216.59 L302.19 215.96 L302.26 215.34 L302.32 214.71 L302.38 214.09 L302.44 213.46 L302.50 212.84 L302.56 212.22 L302.63 211.59 L302.69 210.97 L302.75 210.35 L302.81 209.73 L302.88 209.11 L302.94 208.49 L303.00 207.87 L303.06 207.23 L303.13 206.58 L303.19 205.93 L303.25 205.27 L303.31 204.61 L303.37 203.95 L303.44 203.29 L303.50 202.64 L303.56 201.99 L303.62 201.35 L303.68 200.71 L303.75 200.07 L303.81 199.45 L303.88 198.84 L303.94 198.24 L304.01 197.65 L304.08 197.07 L304.15 196.52 L304.23 195.98 L304.30 195.46 L304.41 194.74 L304.51 194.06 L304.62 193.42 L304.73 192.79 L304.84 192.19 L304.96 191.59 L305.08 191.00 L305.21 190.41 L305.35 189.81 L305.50 189.19 L305.66 188.57 L305.82 187.93 L306.00 187.30 L306.18 186.66 L306.36 186.03 L306.55 185.40 L306.76 184.77 L306.96 184.16 L307.18 183.56 L307.40 182.98 L307.65 182.35 L307.91 181.73 L308.17 181.14 L308.45 180.57 L308.73 180.01 L309.04 179.47 L309.36 178.96 L309.70 178.39 L310.09 177.80 L310.50 177.22 L310.94 176.67 L311.38 176.32 L311.85 175.99 L312.32 175.68 L312.80 175.32 L313.35 174.92 L313.92 174.56 L314.51 174.06 L315.10 173.58 L315.70 173.20 L316.30 172.92 L316.90 172.65 L317.50 172.41 L318.11 172.17 L318.73 171.87 L319.36 171.51 L320.00 171.15 L320.54 170.86 L321.08 170.56 L321.64 170.28 L322.20 170.01 L322.77 169.75 L323.34 169.55 L323.92 169.38 L324.50 169.19 L325.10 168.87 L325.68 168.55 L326.27 168.42 L326.87 168.39 L327.48 168.35 L328.12 168.14 L328.79 167.93 L329.50 167.73 L330.01 167.60 L330.54 167.47 L331.09 167.39 L331.65 167.31 L332.24 167.19 L332.83 167.03 L333.44 166.88 L334.05 166.74 L334.67 166.59 L335.30 166.51 L335.92 166.45 L336.55 166.39 L337.17 166.28 L337.79 166.17 L338.40 166.16 L339.00 166.18 L339.63 166.14 L340.26 166.03 L340.90 165.91 L341.53 165.73 L342.16 165.54 L342.80 165.52 L343.43 165.60 L344.06 165.63 L344.70 165.53 L345.33 165.44 L345.97 165.38 L346.60 165.33 L347.23 165.27 L347.87 165.22 L348.50 165.14 L348.50 165.23 L349.15 165.19 L349.80 165.14 L350.44 165.06 L351.09 164.97 L351.73 164.82 L352.38 164.55 L353.03 164.30 L353.68 164.39 L354.34 164.49 L355.00 164.21 L355.63 163.83 L356.27 163.66 L356.92 163.77 L357.57 163.88 L358.23 163.93 L358.88 163.98 L359.53 163.78 L360.17 163.52 L360.80 163.46 L361.41 163.60 L362.00 163.73 L362.67 163.83 L363.34 163.92 L363.99 163.89 L364.63 163.82 L365.26 163.67 L365.86 163.41 L366.44 163.16 L367.00 163.36 L367.65 163.65 L368.27 163.71 L368.86 163.49 L369.43 163.28 L370.00 163.07 L370.64 162.82 L371.27 162.71 L371.88 162.82 L372.50 162.99 L373.12 163.03 L373.73 163.13 L374.35 163.28 L375.00 163.45 L375.62 163.62 L376.26 163.77 L376.91 163.93 L377.59 164.44 L378.30 165.00 L378.84 165.15 L379.40 165.14 L379.98 165.12 L380.56 165.29 L381.16 165.45 L381.77 165.62 L382.38 165.77 L383.00 165.91 L383.61 166.12 L384.25 166.32 L384.90 166.13 L385.56 165.70 L386.22 165.53 L386.87 165.90 L387.50 166.27 L388.12 166.41 L388.70 166.56 L389.37 166.56 L390.01 166.45 L390.62 166.41 L391.23 166.62 L391.85 166.83 L392.50 166.84 L393.07 166.79 L393.66 166.81 L394.26 166.99 L394.87 167.18 L395.48 167.38 L396.09 167.58 L396.70 167.70 L397.30 167.67 L397.98 167.63 L398.66 167.81 L399.34 168.00 L400.01 168.38 L400.69 168.83 L401.35 168.99 L402.00 168.90 L402.69 168.86 L403.36 168.93 L404.02 169.02 L404.68 169.36 L405.34 169.70 L406.00 169.70 L406.50 151.40 L406.90 180.00 L407.90 231.80 L407.90 231.95 L407.95 231.32 L408.01 230.69 L408.06 230.06 L408.11 229.42 L408.16 228.79 L408.21 228.16 L408.27 227.53 L408.32 226.89 L408.38 226.26 L408.44 225.64 L408.50 225.01 L408.57 224.33 L408.64 223.66 L408.72 222.99 L408.79 222.32 L408.87 221.66 L408.95 220.99 L409.03 220.32 L409.12 219.65 L409.21 218.98 L409.30 218.31 L409.40 217.64 L409.50 217.01 L409.62 216.39 L409.73 215.76 L409.85 215.14 L409.96 214.51 L410.08 213.88 L410.19 213.25 L410.30 212.61 L410.40 211.96 L410.48 211.39 L410.56 210.82 L410.64 210.25 L410.71 209.68 L410.79 209.10 L410.86 208.52 L410.93 207.94 L411.00 207.34 L411.07 206.73 L411.14 206.12 L411.22 205.50 L411.30 204.87 L411.37 204.29 L411.45 203.69 L411.52 203.09 L411.59 202.47 L411.67 201.85 L411.74 201.22 L411.82 200.59 L411.89 199.96 L411.97 199.33 L412.05 198.69 L412.14 198.07 L412.22 197.45 L412.31 196.83 L412.40 196.23 L412.50 195.61 L412.61 194.95 L412.72 194.30 L412.83 193.65 L412.94 193.00 L413.06 192.36 L413.18 191.72 L413.30 191.09 L413.43 190.45 L413.55 189.82 L413.69 189.19 L413.82 188.57 L413.96 187.98 L414.10 187.43 L414.25 186.87 L414.39 186.30 L414.53 185.73 L414.68 185.17 L414.83 184.60 L414.98 184.05 L415.14 183.50 L415.31 182.97 L415.49 182.40 L415.68 181.80 L415.88 181.21 L416.10 180.64 L416.37 179.99 L416.65 179.37 L416.95 178.78 L417.26 178.29 L417.58 177.82 L417.91 177.37 L418.26 176.92 L418.62 176.44 L419.00 175.93 L419.40 175.40 L419.83 174.87 L420.27 174.43 L420.73 174.01 L421.19 173.60 L421.67 173.20 L422.14 172.79 L422.62 172.41 L423.10 172.02 L423.64 171.53 L424.17 171.09 L424.71 170.81 L425.26 170.67 L425.82 170.55 L426.40 170.21 L427.00 169.83 L427.54 169.53 L428.09 169.32 L428.65 169.12 L429.23 168.92 L429.81 168.73 L430.40 168.55 L431.00 168.32 L431.60 168.11 L432.20 167.92 L432.82 167.77 L433.45 167.65 L434.09 167.62 L434.73 167.62 L435.38 167.54 L436.03 167.45 L436.69 167.35 L437.34 167.22 L438.00 167.11 L438.62 167.13 L439.24 167.15 L439.87 167.05 L440.50 166.90 L441.13 166.76 L441.77 166.65 L442.40 166.53 L443.04 166.52 L443.67 166.51 L444.30 166.45 L444.30 166.49 L444.91 166.65 L445.52 166.81 L446.13 166.83 L446.74 166.72 L447.35 166.60 L447.96 166.26 L448.57 165.93 L449.18 166.02 L449.79 166.35 L450.40 166.62 L451.01 166.56 L451.62 166.50 L452.23 166.20 L452.84 165.80 L453.45 165.57 L454.06 165.86 L454.67 166.16 L455.28 166.04 L455.89 165.80 L456.50 165.64 L457.12 165.62 L457.74 165.60 L458.38 165.75 L459.03 165.93 L459.68 165.80 L460.34 165.44 L460.99 165.22 L461.65 165.30 L462.30 165.39 L462.95 165.54 L463.59 165.68 L464.22 165.64 L464.84 165.52 L465.45 165.40 L466.04 165.26 L466.62 165.13 L467.17 165.19 L467.71 165.34 L468.22 165.48 L468.70 165.44 L469.41 165.30 L470.07 165.14 L470.70 164.97 L471.29 164.81 L471.86 164.57 L472.41 164.34 L472.95 164.25 L473.50 164.45 L474.24 164.80 L474.93 164.91 L475.62 165.02 L476.30 165.11 L477.00 165.15 L477.62 165.18 L478.25 165.22 L478.89 165.29 L479.53 165.59 L480.16 165.89 L480.80 165.89"/>
<path stroke="#0a9a4a" d="M82.00 173.95 L82.61 173.86 L83.22 173.76 L83.83 173.79 L84.43 173.93 L85.04 174.05 L85.65 173.97 L86.26 173.89 L86.87 173.95 L87.48 174.10 L88.09 174.22 L88.70 174.10 L89.30 173.98 L89.91 174.08 L90.52 174.28 L91.13 174.43 L91.74 174.41 L92.35 174.38 L92.96 174.29 L93.57 174.18 L94.17 174.04 L94.78 173.80 L95.39 173.57 L96.00 173.47 L96.61 173.40 L97.22 173.47 L97.83 173.80 L98.44 174.13 L99.04 174.10 L99.65 174.03 L100.26 173.95 L100.87 173.86 L101.48 173.77 L102.09 173.63 L102.70 173.48 L103.30 173.38 L103.91 173.32 L104.52 173.26 L105.13 173.43 L105.74 173.59 L106.35 173.61 L106.96 173.53 L107.57 173.46 L108.17 173.45 L108.78 173.44 L109.39 173.43 L110.00 173.43 L110.61 173.43 L111.24 173.47 L111.87 173.50 L112.51 173.28 L113.15 173.00 L113.80 172.84 L114.45 172.85 L115.10 172.91 L115.75 173.24 L116.40 173.56 L117.04 173.57 L117.69 173.52 L118.32 173.48 L118.95 173.44 L119.56 173.36 L120.17 172.97 L120.76 172.58 L121.35 172.42 L121.91 172.40 L122.46 172.39 L122.99 172.44 L123.51 172.50 L124.00 172.55 L124.71 172.60 L125.38 172.65 L126.02 172.71 L126.64 172.78 L127.23 172.72 L127.81 172.47 L128.37 172.22 L128.92 172.25 L129.46 172.36 L130.00 172.45 L130.64 172.07 L131.26 171.65 L131.86 171.33 L132.44 171.10 L133.01 170.91 L133.56 171.02 L134.10 171.22 L134.70 171.49 L135.24 171.68 L135.78 171.93 L136.35 172.23 L137.00 172.51 L137.51 172.67 L138.05 172.68 L138.63 172.67 L139.23 172.71 L139.86 172.84 L140.49 172.97 L141.13 172.93 L141.76 172.88 L142.39 172.94 L143.00 173.08 L143.59 173.24 L144.18 173.50 L144.77 173.77 L145.35 173.96 L145.93 174.09 L146.52 174.20 L147.12 173.93 L147.73 173.64 L148.36 173.53 L149.00 173.57 L149.57 173.60 L150.15 173.86 L150.75 174.11 L151.36 174.12 L151.98 173.95 L152.60 173.80 L153.24 173.77 L153.87 173.73 L154.50 173.44 L155.14 173.07 L155.76 172.87 L156.38 172.87 L157.00 172.89 L157.60 172.74 L158.25 172.60 L158.89 172.67 L159.53 172.86 L160.17 172.95 L160.80 172.69 L161.43 172.43 L162.06 172.48 L162.68 172.57 L163.31 172.66 L163.94 172.78 L164.57 172.84 L165.20 172.50 L165.83 172.15 L166.47 172.12 L167.10 172.20 L167.73 172.27 L168.37 172.34 L169.00 172.41 L169.63 172.48 L170.27 172.54 L170.90 172.40 L171.53 172.15 L172.17 171.94 L172.80 171.89 L173.43 171.82 L174.07 171.67 L174.70 171.50 L175.33 171.59 L175.97 171.90 L176.60 172.10 L177.23 171.69 L177.87 171.27 L178.50 171.15 L179.13 171.11 L179.77 171.17 L180.40 171.36 L181.04 171.54 L181.68 171.47 L182.33 171.41 L182.98 171.45 L183.63 171.52 L184.27 171.48 L184.92 171.27 L185.55 171.10 L186.18 171.30 L186.80 171.49 L187.41 171.32 L188.00 170.99 L188.66 170.71 L189.29 170.73 L189.90 170.74 L190.50 170.87 L191.10 171.02 L191.70 171.02 L192.31 170.71 L192.94 170.40 L193.60 170.44 L194.19 170.51 L194.80 170.63 L195.42 170.80 L196.05 170.96 L196.68 170.93 L197.33 170.91 L197.97 170.75 L198.62 170.54 L199.27 170.38 L199.92 170.30 L200.56 170.24 L201.20 170.32 L201.85 170.40 L202.53 170.54 L203.23 170.71 L203.94 170.64 L204.65 170.42 L205.35 170.24 L206.03 170.09 L206.68 170.05 L207.30 170.29 L207.86 170.51 L208.36 170.51 L208.80 170.45 L209.72 170.49 L210.40 170.51 L210.68 170.06 L210.84 169.27 L210.95 168.39 L211.08 167.64 L211.30 167.27 L211.71 167.41 L212.20 167.78 L212.73 168.09 L213.34 168.43 L214.00 168.75 L214.54 168.78 L215.13 168.78 L215.75 168.92 L216.38 169.28 L217.00 169.63 L217.62 169.61 L218.22 169.60 L218.84 169.70 L219.49 169.87 L220.20 170.01 L220.76 170.09 L221.34 170.14 L221.95 170.32 L222.59 170.54 L223.24 170.65 L223.91 170.58 L224.59 170.47 L225.29 170.09 L226.00 169.72 L226.54 169.75 L227.10 169.78 L227.67 169.79 L228.25 169.77 L228.84 169.76 L229.44 169.73 L230.04 169.71 L230.65 169.70 L231.27 169.69 L231.89 169.68 L232.51 169.66 L233.14 169.64 L233.76 169.58 L234.38 169.47 L235.00 169.36 L235.61 169.51 L236.24 169.66 L236.87 169.78 L237.50 169.87 L238.15 169.91 L238.79 169.77 L239.43 169.63 L240.08 169.72 L240.72 169.84 L241.36 169.81 L241.99 169.67 L242.61 169.52 L243.23 169.32 L243.83 169.13 L244.42 169.25 L245.00 169.47 L245.68 169.68 L246.34 169.71 L246.97 169.74 L247.60 169.45 L248.21 169.15 L248.83 168.94 L249.44 168.80 L250.06 168.68 L250.69 168.88 L251.33 169.09 L252.00 169.13 L252.57 169.11 L253.15 169.10 L253.74 169.08 L254.34 169.06 L254.94 169.16 L255.55 169.31 L256.17 169.37 L256.78 169.20 L257.40 169.02 L258.02 169.03 L258.64 169.07 L259.26 168.95 L259.88 168.59 L260.49 168.24 L261.10 168.43 L261.71 168.64 L262.31 168.78 L262.92 168.88 L263.53 168.96 L264.13 168.65 L264.74 168.33 L265.34 168.19 L265.95 168.19 L266.56 168.22 L267.16 168.51 L267.77 168.81 L268.38 168.97 L268.98 169.05 L269.59 169.07 L270.20 168.72 L270.81 168.37 L271.42 168.44 L272.04 168.71 L272.65 168.86 L273.27 168.66 L273.88 168.46 L274.49 168.66 L275.11 168.95 L275.72 169.14 L276.34 169.13 L276.95 169.11 L277.56 168.98 L278.18 168.83 L278.79 168.77 L279.40 168.80 L280.01 168.84 L280.62 169.13 L281.22 169.42 L281.83 169.53 L282.44 169.47 L283.05 169.44 L283.65 169.60 L284.26 169.77 L284.86 169.78 L285.47 169.68 L286.08 169.60 L286.68 169.64 L287.29 169.69 L287.89 169.93 L288.50 170.28 L289.11 170.57 L289.72 170.52 L290.34 170.47 L290.95 170.46 L291.57 170.47 L292.19 170.52 L292.80 170.63 L293.42 170.75 L294.03 170.91 L294.64 171.09 L295.24 171.22 L295.84 171.30 L296.43 171.38 L297.02 171.54 L297.60 171.70 L298.23 171.75 L298.85 171.59 L299.44 171.44 L300.02 171.65 L300.60 171.89 L301.18 172.05 L301.77 172.04 L302.37 172.02 L302.98 172.12 L303.62 172.26 L304.29 172.34 L305.00 172.35 L305.51 172.36 L306.03 172.39 L306.58 172.42 L307.14 172.45 L307.72 172.48 L308.31 172.52 L308.91 172.55 L309.53 172.59 L310.15 172.58 L310.78 172.44 L311.42 172.29 L312.06 172.22 L312.71 172.16 L313.35 172.18 L313.99 172.27 L314.63 172.35 L315.27 172.39 L315.90 172.43 L316.52 172.28 L317.13 172.11 L317.74 172.01 L318.33 172.01 L318.90 172.01 L319.46 171.92 L320.00 171.81 L320.70 171.80 L321.37 172.10 L322.04 172.39 L322.69 172.51 L323.33 172.63 L323.96 172.46 L324.58 172.18 L325.19 171.97 L325.80 171.88 L326.41 171.79 L327.02 171.80 L327.63 171.83 L328.25 171.89 L328.87 172.00 L329.50 172.12 L330.13 172.07 L330.77 172.03 L331.40 172.23 L332.03 172.57 L332.67 172.71 L333.30 172.32 L333.93 171.92 L334.57 172.01 L335.20 172.15 L335.83 172.19 L336.47 172.13 L337.10 172.12 L337.73 172.40 L338.37 172.68 L339.00 172.81 L339.63 172.90 L340.27 172.85 L340.90 172.60 L341.53 172.37 L342.17 172.35 L342.80 172.33 L343.43 172.48 L344.07 172.70 L344.70 172.88 L345.33 172.97 L345.97 173.06 L346.60 173.24 L347.23 173.42 L347.87 173.28 L348.50 172.91 L349.14 172.63 L349.78 172.69 L350.43 172.75 L351.09 172.82 L351.75 172.88 L352.40 172.93 L353.06 172.97 L353.71 173.01 L354.36 173.05 L354.99 173.08 L355.62 173.33 L356.24 173.57 L356.84 173.66 L357.43 173.63 L358.00 173.60 L358.65 173.46 L359.27 173.33 L359.86 173.29 L360.43 173.31 L361.00 173.33 L361.57 173.40 L362.14 173.47 L362.73 173.51 L363.35 173.48 L364.00 173.44 L364.57 173.69 L365.16 173.94 L365.76 173.99 L366.38 173.78 L367.01 173.56 L367.64 173.66 L368.29 173.75 L368.94 173.85 L369.60 173.96 L370.25 173.95 L370.91 173.77 L371.57 173.60 L372.22 173.48 L372.86 173.36 L373.50 173.57 L374.14 173.86 L374.78 174.04 L375.42 174.07 L376.06 174.07 L376.71 173.82 L377.35 173.57 L378.00 173.60 L378.64 173.72 L379.28 173.87 L379.91 174.08 L380.55 174.24 L381.17 174.03 L381.79 173.80 L382.40 173.63 L383.00 173.49 L383.67 173.32 L384.35 173.17 L385.02 173.03 L385.70 173.39 L386.36 173.73 L387.02 173.67 L387.66 173.50 L388.29 173.28 L388.90 172.99 L389.49 172.72 L390.06 172.70 L390.60 172.69 L391.31 172.63 L391.97 172.51 L392.59 172.38 L393.20 172.20 L393.79 172.06 L394.40 172.26 L395.01 172.70 L395.60 173.13 L396.19 173.23 L396.79 173.33 L397.39 173.39 L398.00 173.37 L398.64 173.30 L399.28 173.27 L399.93 173.21 L400.60 173.43 L401.28 173.69 L402.00 173.73 L402.55 173.69 L403.12 173.68 L403.71 173.83 L404.31 173.99 L404.92 173.98 L405.54 173.90 L406.16 173.81 L406.78 173.73 L407.39 173.65 L408.00 173.45 L408.60 173.24 L409.20 173.09 L409.81 173.07 L410.41 173.05 L411.02 173.10 L411.62 173.17 L412.22 173.21 L412.82 173.20 L413.41 173.20 L414.00 173.46 L414.62 173.81 L415.22 174.01 L415.81 173.97 L416.39 173.94 L416.98 174.08 L417.59 174.26 L418.22 174.48 L418.89 174.78 L419.60 174.99 L420.11 174.78 L420.64 174.56 L421.19 174.47 L421.76 174.65 L422.35 174.82 L422.95 174.78 L423.56 174.67 L424.19 174.68 L424.82 175.02 L425.45 175.37 L426.10 175.10 L426.74 174.79 L427.39 174.93 L428.04 175.36 L428.68 175.69 L429.32 175.74 L429.96 175.80 L430.58 175.83 L431.20 175.86 L431.81 175.72 L432.42 175.43 L433.02 175.15 L433.62 175.26 L434.23 175.37 L434.83 175.54 L435.43 175.76 L436.03 175.96 L436.64 175.71 L437.24 175.45 L437.85 175.45 L438.46 175.65 L439.07 175.82 L439.68 175.84 L440.29 175.86 L440.91 176.03 L441.54 176.28 L442.17 176.42 L442.80 176.28 L443.40 176.15 L444.01 176.26 L444.62 176.42 L445.23 176.44 L445.85 176.23 L446.48 176.02 L447.10 176.27 L447.73 176.54 L448.36 176.58 L448.99 176.45 L449.63 176.40 L450.26 176.68 L450.90 176.95 L451.53 176.71 L452.16 176.37 L452.79 176.36 L453.42 176.73 L454.04 177.05 L454.66 176.80 L455.28 176.54 L455.89 176.56 L456.50 176.72 L457.13 176.86 L457.75 176.85 L458.37 176.85 L458.99 176.71 L459.60 176.54 L460.21 176.52 L460.82 176.81 L461.43 177.10 L462.04 176.91 L462.65 176.66 L463.25 176.51 L463.86 176.49 L464.46 176.47 L465.07 176.35 L465.67 176.23 L466.27 176.21 L466.88 176.30 L467.49 176.39 L468.09 176.46 L468.70 176.53 L469.31 176.62 L469.91 176.73 L470.52 176.84 L471.12 176.69 L471.73 176.54 L472.33 176.56 L472.94 176.71 L473.54 176.84 L474.15 176.59 L474.75 176.35 L475.36 176.33 L475.96 176.47 L476.57 176.60 L477.17 176.64 L477.78 176.69 L478.38 176.85 L478.99 177.09 L479.59 177.28 L480.20 177.23 L480.80 177.18"/>
</g>
<g stroke="#000" stroke-width="1.3" fill="none">
<line x1="82" x2="82" y1="23.8" y2="323.1"/>
<line x1="81.4" x2="503.8" y1="322.5" y2="322.5"/>
<line x1="76" x2="82" y1="24.50" y2="24.50"/><line x1="79" x2="82" y1="43.12" y2="43.12"/><line x1="76" x2="82" y1="61.75" y2="61.75"/><line x1="79" x2="82" y1="80.38" y2="80.38"/><line x1="76" x2="82" y1="99.00" y2="99.00"/><line x1="79" x2="82" y1="117.62" y2="117.62"/><line x1="76" x2="82" y1="136.25" y2="136.25"/><line x1="79" x2="82" y1="154.88" y2="154.88"/><line x1="76" x2="82" y1="173.50" y2="173.50"/><line x1="79" x2="82" y1="192.12" y2="192.12"/><line x1="76" x2="82" y1="210.75" y2="210.75"/><line x1="79" x2="82" y1="229.38" y2="229.38"/><line x1="76" x2="82" y1="248.00" y2="248.00"/><line x1="79" x2="82" y1="266.62" y2="266.62"/><line x1="76" x2="82" y1="285.25" y2="285.25"/><line x1="79" x2="82" y1="303.88" y2="303.88"/><line x1="76" x2="82" y1="322.50" y2="322.50"/><line x1="81.70" x2="81.70" y1="322.5" y2="328.5"/><line x1="146.50" x2="146.50" y1="322.5" y2="328.5"/><line x1="211.30" x2="211.30" y1="322.5" y2="328.5"/><line x1="276.10" x2="276.10" y1="322.5" y2="328.5"/><line x1="340.90" x2="340.90" y1="322.5" y2="328.5"/><line x1="405.70" x2="405.70" y1="322.5" y2="328.5"/><line x1="470.50" x2="470.50" y1="322.5" y2="328.5"/><line x1="114.10" x2="114.10" y1="322.5" y2="325.5"/><line x1="178.90" x2="178.90" y1="322.5" y2="325.5"/><line x1="243.70" x2="243.70" y1="322.5" y2="325.5"/><line x1="308.50" x2="308.50" y1="322.5" y2="325.5"/><line x1="373.30" x2="373.30" y1="322.5" y2="325.5"/><line x1="438.10" x2="438.10" y1="322.5" y2="325.5"/><line x1="502.90" x2="502.90" y1="322.5" y2="325.5"/>
</g>
<g class="t" font-size="20.5" fill="#000" text-anchor="end">
<text x="71.7" y="29.10">20</text><text x="71.7" y="66.35">15</text><text x="71.7" y="103.60">10</text><text x="71.7" y="140.85">5</text><text x="71.7" y="178.10">0</text><text x="71.7" y="215.35">-5</text><text x="71.7" y="252.60">-10</text><text x="71.7" y="289.85">-15</text><text x="71.7" y="327.10">-20</text>
</g>
<g class="t" font-size="20.5" fill="#000" text-anchor="middle">
<text x="82.05" y="346.7">0</text><text x="146.85" y="346.7">10</text><text x="211.65" y="346.7">20</text><text x="276.45" y="346.7">30</text><text x="341.25" y="346.7">40</text><text x="406.05" y="346.7">50</text><text x="470.85" y="346.7">60</text>
</g>
<g class="t" font-weight="bold" font-size="24" fill="#000" stroke="#000" stroke-width="0.3">
<text x="232.96" y="383.00" textLength="53.54" lengthAdjust="spacing">Time</text><text x="294.70" y="383.00" textLength="56.33" lengthAdjust="spacing">(min)</text>
<g transform="rotate(-90)"><text x="-315.36" y="19.10" textLength="78.33" lengthAdjust="spacing">Optical</text><text x="-223.76" y="19.10" textLength="49.82" lengthAdjust="spacing">path</text><text x="-161.68" y="19.10" textLength="71.91" lengthAdjust="spacing">length</text><text x="-83.40" y="19.10" textLength="51.33" lengthAdjust="spacing">(nm)</text></g>
</g>
<g stroke-width="1.6">
<line x1="244" x2="265.5" y1="9" y2="9" stroke="#3366dd"/>
<line x1="244" x2="265.5" y1="31.4" y2="31.4" stroke="#ee1c22"/>
<line x1="244" x2="265.5" y1="53.7" y2="53.7" stroke="#33a05f"/>
</g>
<g class="t" font-size="16.3" font-weight="bold" fill="#000" stroke="#000" stroke-width="0.3">
<text x="268.72" y="14.00" textLength="62.93" lengthAdjust="spacingAndGlyphs">0.20mm</text><text x="325.90" y="16.00" font-family="Liberation Sans, Noto Sans CJK SC, sans-serif">（</text><text x="347.43" y="14.00" textLength="46.21" lengthAdjust="spacing">singal</text><text x="397.55" y="14.00" textLength="60.62" lengthAdjust="spacing">channel</text><text x="463.00" y="16.00" font-family="Liberation Sans, Noto Sans CJK SC, sans-serif">）</text><text x="268.72" y="36.35" textLength="62.93" lengthAdjust="spacingAndGlyphs">0.17mm</text><text x="325.90" y="38.35" font-family="Liberation Sans, Noto Sans CJK SC, sans-serif">（</text><text x="347.43" y="36.35" textLength="46.21" lengthAdjust="spacing">singal</text><text x="397.55" y="36.35" textLength="60.62" lengthAdjust="spacing">channel</text><text x="463.00" y="38.35" font-family="Liberation Sans, Noto Sans CJK SC, sans-serif">）</text><text x="269.14" y="58.40" textLength="73.73" lengthAdjust="spacing">proposed</text><text x="347.63" y="58.40" textLength="49.21" lengthAdjust="spacing">sensor</text><text x="393.00" y="60.40" font-family="Liberation Sans, Noto Sans CJK SC, sans-serif">（</text><text x="414.05" y="58.40" textLength="99.70" lengthAdjust="spacing">dual-channel</text><text x="518.60" y="60.40" font-family="Liberation Sans, Noto Sans CJK SC, sans-serif">）</text>
</g>
</svg>
</body></html>
